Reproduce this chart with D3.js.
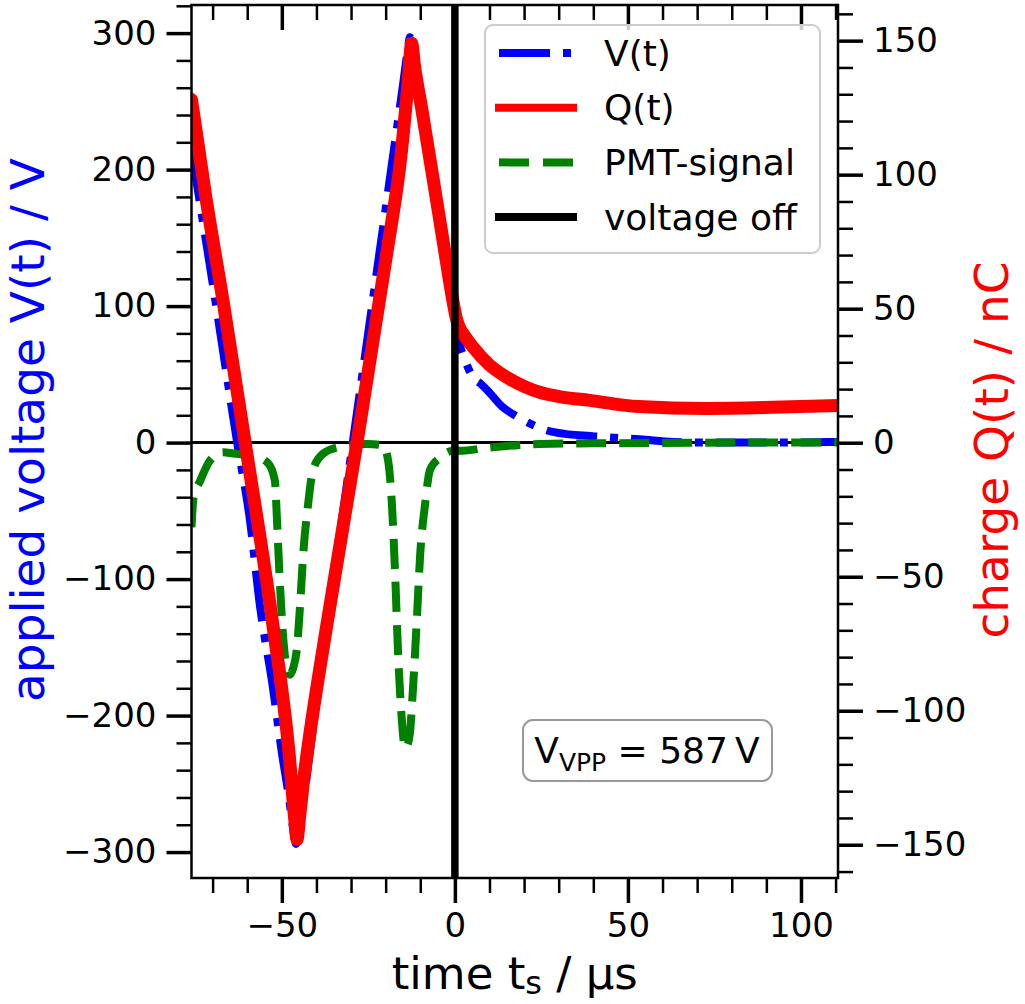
<!DOCTYPE html>
<html>
<head>
<meta charset="utf-8">
<script src="https://cdn.jsdelivr.net/npm/d3@7"></script>
<style>
  body { margin: 0; background: #fff; }
  svg text { font-family: "DejaVu Sans", sans-serif; }
</style>
</head>
<body>
<div id="chart"></div>
<script>
// applied voltage V(t) in V, [time µs, value]
const voltageSeries = [
  [-76.1, 214], [-70, 117], [-62.9, 0], [-59.2, -57], [-56.3, -120], [-52.6, -179],
  [-50, -227], [-48, -259], [-46.6, -285], [-45.9, -294], [-45.2, -285], [-40, -190],
  [-35, -99], [-29.5, 0], [-24, 99], [-18.2, 204], [-15, 262], [-13.6, 288], [-13, 297],
  [-12.3, 287], [-9, 237], [-7, 207], [-3, 143], [-0.2, 95], [0.2, 88], [1, 76], [3, 60],
  [5.2, 48], [7.5, 43], [9.5, 38], [13.8, 26], [18, 19], [22.5, 13], [28.3, 7.8], [33, 6],
  [39, 4.8], [46, 3.5], [53.4, 2.5], [63, 0.5], [75, 0], [90, 0], [110.7, 0.5]
];

// charge Q(t) in nC
const chargeSeries = [
  [-76.1, 128], [-72, 92], [-67, 53], [-60.6, 0], [-52.8, -66], [-47.9, -116],
  [-46.3, -140], [-45.6, -148], [-44.9, -140], [-43.9, -128], [-42.7, -116], [-37, -68],
  [-28.3, 0], [-20, 68], [-15.5, 108], [-13.4, 136], [-12.5, 149], [-11.7, 141],
  [-9.5, 124], [-6.1, 97], [-3, 72], [-0.3, 51], [0.3, 47], [1, 44], [3, 39.5],
  [5.2, 35.7], [10, 29], [15, 24.4], [20, 21], [24.5, 18.8], [31, 17], [39, 15.8],
  [53, 13.5], [72.7, 12.8], [91.8, 13.2], [110.7, 13.9]
];

// PMT signal, drawn on the voltage axis
const pmtSeries = [
  [-76.1, -62], [-75.5, -40], [-73.6, -28], [-70.7, -13], [-67, -7], [-64, -8], [-58, -10],
  [-54, -15], [-52, -28], [-51.4, -57], [-50.5, -106], [-49.6, -143], [-48.5, -166],
  [-47.7, -170], [-46.7, -165], [-45.6, -150], [-44.7, -118], [-43.8, -81], [-42.4, -45],
  [-41, -20], [-38, -8], [-33, -3], [-25.4, -1], [-20.8, -2], [-19.3, -13], [-18.2, -45],
  [-17.3, -94], [-16.4, -155], [-15.3, -204], [-14.4, -224], [-13.6, -221], [-13, -213],
  [-12.1, -180], [-11, -130], [-10, -81], [-8.6, -45], [-7.2, -20], [-4.3, -11],
  [-0.6, -6], [1.4, -6], [10, -3.6], [24.5, -1], [40, -0.5], [60, -0.3], [80, 0], [110.7, 0]
];

const timeTicks = [-50, 0, 50, 100];
const voltageTicks = [-300, -200, -100, 0, 100, 200, 300];
const chargeTicks = [-150, -100, -50, 0, 50, 100, 150];
const legendLabels = ["V(t)", "Q(t)", "PMT-signal", "voltage off"];
const vppLabel = "587";

const width = 1025, height = 1004;
const box = { left: 191.5, right: 838, top: 5, bottom: 878 };

const svg = d3.select("#chart").append("svg")
  .attr("width", width)
  .attr("height", height);

const x = d3.scaleLinear().domain([-76.1, 110.7]).range([box.left, box.right]);
const yV = d3.scaleLinear().domain([-319, 320.6]).range([box.bottom, box.top]);
const yQ = d3.scaleLinear().domain([-162.4, 163.3]).range([box.bottom, box.top]);

svg.append("clipPath").attr("id", "plotArea")
  .append("rect")
  .attr("x", box.left).attr("y", box.top)
  .attr("width", box.right - box.left).attr("height", box.bottom - box.top);

const plot = svg.append("g").attr("clip-path", "url(#plotArea)");

// zero line
plot.append("line")
  .attr("x1", box.left).attr("x2", box.right)
  .attr("y1", yV(0)).attr("y2", yV(0))
  .attr("stroke", "#000").attr("stroke-width", 3);

const lineV = d3.line().x(d => x(d[0])).y(d => yV(d[1])).curve(d3.curveMonotoneX);
const lineQ = d3.line().x(d => x(d[0])).y(d => yQ(d[1])).curve(d3.curveMonotoneX);

plot.append("path")
  .datum(voltageSeries)
  .attr("d", lineV)
  .attr("fill", "none")
  .attr("stroke", "#0000ff")
  .attr("stroke-width", 8)
  .attr("stroke-dasharray", "51,13,8,13");

plot.append("path")
  .datum(pmtSeries)
  .attr("d", lineV)
  .attr("fill", "none")
  .attr("stroke", "#008000")
  .attr("stroke-width", 8)
  .attr("stroke-dasharray", "30,13");

plot.append("path")
  .datum(chargeSeries)
  .attr("d", lineQ)
  .attr("fill", "none")
  .attr("stroke", "#ff0000")
  .attr("stroke-width", 13)
  .attr("stroke-linejoin", "round")
  .attr("stroke-linecap", "round");

// voltage off
plot.append("line")
  .attr("x1", x(0)).attr("x2", x(0))
  .attr("y1", box.top).attr("y2", box.bottom)
  .attr("stroke", "#000").attr("stroke-width", 7.5);

// axes
const fmt = d3.format("d");
function minorOf(scale, step, majors) {
  const [a, b] = scale.domain();
  return d3.range(Math.ceil(a / step) * step, b + 1e-9, step).filter(v => !majors.includes(v));
}

function styleAxis(sel, w) {
  sel.select(".domain").remove();
  sel.selectAll(".tick line").attr("stroke", "#000").attr("stroke-width", w);
  sel.selectAll(".tick text").attr("font-size", 34).attr("fill", "#000")
    .attr("font-family", "DejaVu Sans");
}

const axes = [
  { gen: d3.axisBottom(x), at: `translate(0,${box.bottom})`, major: timeTicks, step: 10, labels: true },
  { gen: d3.axisBottom(x), at: `translate(0,${box.top})`, major: timeTicks, step: 10, labels: false },
  { gen: d3.axisLeft(yV), at: `translate(${box.left},0)`, major: voltageTicks, step: 20, labels: true },
  { gen: d3.axisRight(yQ), at: `translate(${box.right},0)`, major: chargeTicks, step: 10, labels: true }
];

axes.forEach(a => {
  const sc = a.gen.scale();
  svg.append("g").attr("transform", a.at)
    .call(a.gen.tickValues(minorOf(sc, a.step, a.major)).tickSize(15).tickFormat(""))
    .call(s => styleAxis(s, 2.5));
  svg.append("g").attr("transform", a.at)
    .call(a.gen.tickValues(a.major).tickSize(25).tickPadding(10).tickFormat(a.labels ? fmt : ""))
    .call(s => styleAxis(s, 3.5));
});

// frame
svg.append("rect")
  .attr("x", box.left).attr("y", box.top)
  .attr("width", box.right - box.left).attr("height", box.bottom - box.top)
  .attr("fill", "none").attr("stroke", "#000").attr("stroke-width", 2.5);

// axis titles
const xt = svg.append("text")
  .attr("x", (box.left + box.right) / 2).attr("y", 989)
  .attr("text-anchor", "middle").attr("font-size", 45);
xt.append("tspan").text("time t");
xt.append("tspan").attr("font-size", 32).attr("dy", 5).text("s");
xt.append("tspan").attr("dy", -5).text(" / µs");

svg.append("text")
  .attr("transform", "translate(44,430) rotate(-90)")
  .attr("text-anchor", "middle").attr("font-size", 47)
  .attr("fill", "#0000ff")
  .text("applied voltage V(t) / V");

svg.append("text")
  .attr("transform", "translate(1008,450) rotate(-90)")
  .attr("text-anchor", "middle").attr("font-size", 47)
  .attr("fill", "#ff0000")
  .text("charge Q(t) / nC");

// legend
const legend = svg.append("g");
legend.append("rect")
  .attr("x", 485).attr("y", 25).attr("width", 335).attr("height", 228).attr("rx", 8)
  .attr("fill", "#fff").attr("fill-opacity", 0.8)
  .attr("stroke", "#cccccc").attr("stroke-width", 2);

const legendStyles = [
  { color: "#0000ff", dash: "51,13,8,13", cap: "butt" },
  { color: "#ff0000", dash: null, cap: "square" },
  { color: "#008000", dash: "30,14", cap: "butt" },
  { color: "#000000", dash: null, cap: "square" }
];

legendLabels.forEach((lab, i) => {
  const cy = 53 + i * 54.7;
  const st = legendStyles[i];
  legend.append("line")
    .attr("x1", 499).attr("x2", 573).attr("y1", cy).attr("y2", cy)
    .attr("stroke", st.color).attr("stroke-width", 8)
    .attr("stroke-linecap", st.cap)
    .attr("stroke-dasharray", st.dash);
  legend.append("text")
    .attr("x", 604).attr("y", cy)
    .attr("dominant-baseline", "central")
    .attr("font-size", 36)
    .text(lab);
});

// V_VPP annotation
svg.append("rect")
  .attr("x", 523).attr("y", 720).attr("width", 249).attr("height", 61).attr("rx", 10)
  .attr("fill", "#fff").attr("stroke", "#999").attr("stroke-width", 2);
const ann = svg.append("text")
  .attr("x", 647).attr("y", 763)
  .attr("text-anchor", "middle").attr("font-size", 36);
ann.append("tspan").text("V");
ann.append("tspan").attr("font-size", 25).attr("dy", 8).text("VPP");
ann.append("tspan").attr("dy", -8).text(" = " + vppLabel + "\u2009V");
</script>
</body>
</html>
